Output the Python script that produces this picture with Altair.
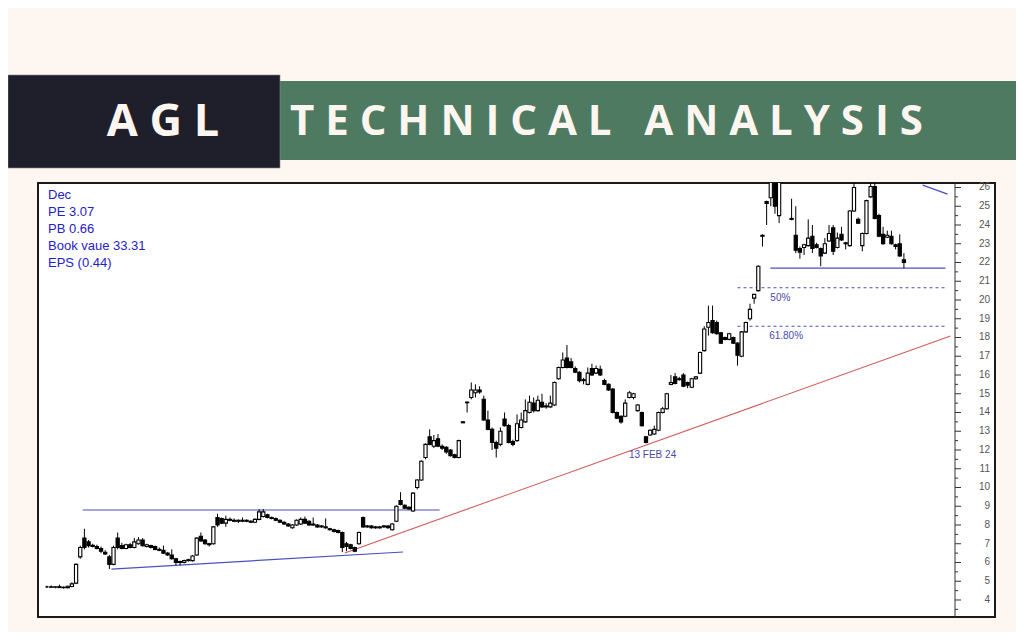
import altair as alt
import pandas as pd

# ---------------- data ----------------
OPEN = [4.70, 4.70, 4.68, 4.71, 4.66, 4.66, 4.72, 4.90, 6.30, 7.30,
        7.10, 6.92, 6.85, 6.75, 6.55, 6.30, 5.90, 7.30, 6.90, 6.75,
        6.95, 6.80, 7.00, 7.20, 6.85, 6.90, 6.85, 6.70, 6.65, 6.50,
        6.40, 6.20, 6.00, 6.00, 6.10, 6.10, 6.40, 7.40, 7.20, 7.00,
        7.00, 8.40, 8.35, 8.10, 8.30, 8.25, 8.25, 8.20, 8.25, 8.20,
        8.15, 8.30, 8.45, 8.55, 8.40, 8.35, 8.25, 8.15, 8.05, 7.85,
        8.00, 8.05, 8.30, 8.20, 8.05, 8.00, 7.95, 7.90, 7.80, 7.75,
        7.70, 7.60, 7.00, 6.95, 6.80, 7.00, 8.40, 7.90, 7.95, 7.85,
        7.85, 7.95, 7.95, 7.75, 8.20, 9.30, 9.05, 8.95, 8.75, 10.00,
        10.40, 11.60, 12.70, 12.20, 12.60, 12.20, 12.15, 12.00, 11.75, 11.60,
        13.50, 14.55, 14.80, 15.05, 15.20, 14.70, 13.60, 13.10, 12.40, 12.30,
        13.65, 13.30, 12.45, 12.50, 13.20, 13.50, 14.00, 14.50, 14.10, 14.55,
        14.35, 14.30, 14.40, 15.80, 16.40, 16.90, 16.70, 16.35, 16.15, 15.75,
        15.50, 16.35, 16.10, 16.30, 15.70, 15.50, 15.25, 14.00, 13.80, 13.80,
        14.80, 14.80, 14.10, 14.00, 12.70, 12.80, 12.85, 13.05, 14.00, 14.20,
        15.50, 15.90, 15.80, 16.00, 15.60, 15.35, 15.80, 16.10, 17.30, 18.55,
        18.90, 18.80, 18.25, 18.00, 17.90, 18.00, 17.70, 17.00, 18.30, 19.00,
        20.10, 20.50, 23.45, 25.25, 25.45, 26.80, 24.50, 26.80, 28.00, 24.35,
        23.45, 22.75, 22.80, 22.90, 23.40, 22.95, 22.75, 22.50, 23.15, 23.85,
        22.80, 23.50, 23.05, 22.90, 24.75, 24.30, 22.90, 23.55, 25.50, 26.05,
        24.50, 23.50, 23.35, 23.40, 22.95, 23.00, 22.15]
HIGH = [4.76, 4.78, 4.74, 4.82, 4.72, 4.76, 4.95, 5.95, 6.90, 7.80,
        7.20, 7.00, 6.95, 6.85, 6.65, 6.40, 6.90, 7.60, 7.05, 7.00,
        7.05, 7.30, 7.35, 7.30, 7.00, 6.95, 6.90, 6.80, 6.90, 6.55,
        6.70, 6.25, 6.10, 6.15, 6.20, 6.40, 7.35, 7.60, 7.25, 7.05,
        7.95, 8.60, 8.40, 8.50, 8.40, 8.35, 8.30, 8.40, 8.30, 8.25,
        8.35, 8.85, 8.85, 8.60, 8.45, 8.40, 8.30, 8.20, 8.10, 8.05,
        8.30, 8.40, 8.45, 8.25, 8.40, 8.05, 8.00, 8.35, 7.85, 7.80,
        7.75, 7.65, 7.10, 7.00, 6.85, 7.65, 8.45, 8.00, 8.00, 7.95,
        7.95, 8.00, 8.00, 8.10, 9.05, 9.75, 9.10, 9.00, 9.75, 10.45,
        11.45, 12.35, 13.10, 12.80, 12.85, 12.30, 12.20, 12.05, 11.80, 12.55,
        13.55, 14.60, 15.60, 15.50, 15.40, 14.90, 14.10, 13.20, 12.50, 13.20,
        14.00, 13.40, 12.55, 13.90, 14.00, 14.70, 14.90, 14.80, 14.90, 15.00,
        14.50, 14.90, 15.65, 16.45, 17.20, 17.60, 16.90, 16.45, 16.20, 15.85,
        16.40, 16.60, 16.50, 16.50, 15.80, 15.55, 15.30, 14.05, 13.85, 14.70,
        15.15, 15.05, 14.45, 14.05, 12.75, 13.10, 13.30, 14.05, 14.30, 15.05,
        16.00, 16.10, 15.90, 16.10, 15.65, 15.85, 15.95, 17.25, 18.60, 19.70,
        19.70, 18.90, 18.30, 18.05, 18.25, 18.05, 17.75, 18.35, 18.85, 19.80,
        20.30, 21.85, 23.50, 25.30, 27.00, 27.00, 26.80, 27.80, 28.20, 25.40,
        25.00, 22.85, 23.00, 24.30, 24.00, 23.05, 22.80, 23.30, 24.00, 24.00,
        23.60, 23.90, 23.10, 24.80, 26.30, 24.40, 23.60, 25.35, 26.50, 26.40,
        24.60, 23.90, 23.70, 23.70, 23.00, 23.50, 22.50]
LOW = [4.64, 4.66, 4.62, 4.64, 4.60, 4.62, 4.68, 4.85, 6.20, 6.70,
       6.80, 6.80, 6.70, 6.50, 6.40, 5.65, 5.85, 6.70, 6.70, 6.70,
       6.75, 6.75, 6.95, 6.85, 6.80, 6.75, 6.65, 6.60, 6.45, 6.35,
       6.15, 5.85, 5.85, 5.95, 6.05, 6.05, 6.35, 7.10, 6.95, 6.85,
       6.95, 7.90, 8.05, 7.90, 8.20, 8.15, 8.10, 8.15, 8.15, 8.10,
       8.10, 8.25, 8.40, 8.35, 8.30, 8.20, 8.10, 8.00, 7.90, 7.80,
       7.95, 8.00, 8.05, 7.95, 7.95, 7.85, 7.85, 7.80, 7.70, 7.60,
       7.55, 6.55, 6.60, 6.70, 6.55, 6.95, 7.85, 7.85, 7.80, 7.80,
       7.80, 7.85, 7.80, 7.70, 8.15, 9.05, 8.85, 8.80, 8.70, 9.90,
       10.35, 11.50, 12.25, 12.10, 12.15, 12.00, 11.80, 11.65, 11.55, 11.55,
       13.45, 14.00, 14.70, 14.80, 15.00, 13.55, 13.05, 12.00, 11.60, 12.20,
       13.25, 12.35, 12.20, 12.45, 13.15, 13.45, 13.95, 14.00, 14.05, 14.25,
       14.20, 14.25, 14.35, 15.75, 16.35, 16.35, 16.35, 16.10, 15.60, 15.50,
       15.45, 15.95, 16.05, 15.95, 15.45, 15.15, 13.95, 13.65, 13.40, 13.75,
       14.75, 14.70, 14.05, 13.25, 12.35, 12.75, 12.80, 13.00, 13.95, 14.15,
       15.45, 15.50, 15.70, 15.35, 15.30, 15.30, 15.75, 16.05, 17.25, 18.10,
       18.20, 18.15, 17.65, 17.85, 17.85, 17.65, 16.50, 16.95, 18.25, 18.90,
       19.80, 20.45, 22.85, 24.00, 25.00, 24.60, 24.10, 26.50, 26.60, 24.25,
       22.50, 22.20, 22.40, 22.85, 22.50, 22.75, 21.80, 22.45, 23.10, 22.40,
       22.75, 23.15, 22.70, 22.85, 24.70, 24.05, 22.60, 23.50, 25.45, 24.30,
       23.35, 22.95, 23.30, 22.95, 22.70, 22.30, 21.70]
CLOSE = [4.70, 4.68, 4.71, 4.66, 4.68, 4.73, 4.86, 5.90, 6.80, 6.80,
         6.90, 6.85, 6.75, 6.60, 6.45, 5.90, 6.80, 6.80, 6.75, 6.95,
         6.80, 7.10, 7.20, 6.90, 6.95, 6.80, 6.70, 6.65, 6.50, 6.40,
         6.20, 6.00, 6.05, 6.10, 6.15, 6.35, 7.30, 7.15, 7.00, 6.95,
         7.90, 8.00, 8.10, 8.30, 8.25, 8.20, 8.20, 8.25, 8.20, 8.15,
         8.30, 8.70, 8.70, 8.40, 8.35, 8.25, 8.15, 8.05, 7.95, 8.00,
         8.25, 8.30, 8.10, 8.00, 8.00, 7.90, 7.90, 7.85, 7.75, 7.65,
         7.60, 6.80, 6.85, 6.75, 6.60, 7.60, 7.90, 7.95, 7.85, 7.90,
         7.90, 7.90, 7.85, 8.05, 9.00, 9.10, 8.90, 8.85, 9.70, 10.40,
         11.40, 12.30, 12.30, 12.50, 12.20, 12.10, 11.90, 11.70, 11.60, 12.50,
         13.45, 14.52, 15.20, 15.20, 15.10, 13.60, 13.10, 12.40, 12.10, 13.00,
         13.30, 12.40, 12.30, 13.40, 13.60, 14.10, 14.55, 14.10, 14.65, 14.30,
         14.30, 14.50, 15.60, 16.40, 16.80, 16.40, 16.40, 16.15, 15.70, 15.70,
         16.10, 16.00, 16.35, 16.00, 15.50, 15.20, 14.00, 13.70, 13.50, 14.50,
         15.05, 15.00, 14.40, 13.30, 12.40, 13.05, 13.10, 14.00, 14.20, 15.00,
         15.60, 15.55, 15.75, 15.40, 15.45, 15.80, 15.90, 17.20, 18.45, 18.80,
         18.25, 18.20, 17.70, 17.90, 18.20, 17.70, 17.05, 18.30, 18.80, 19.50,
         20.30, 21.80, 23.40, 25.15, 26.60, 25.00, 26.80, 27.60, 27.00, 24.30,
         22.65, 22.55, 22.95, 23.30, 22.75, 22.80, 22.35, 23.00, 23.55, 22.60,
         23.30, 23.20, 23.00, 24.75, 26.00, 24.10, 23.55, 25.30, 26.05, 24.35,
         23.40, 23.00, 23.45, 23.00, 22.85, 22.35, 22.00]

PRICE_TICKS = list(range(4, 27))
MINOR_TICKS = [t + 0.5 for t in range(3, 26)]

INFO_TEXT = ["Dec", "PE 3.07", "PB 0.66", "Book vaue 33.31", "EPS (0.44)"]

HEAD_LEFT = "AGL"
HEAD_RIGHT = ["TECHNICAL", "ANALYSIS"]

# trend / level lines: (x index start, price start, x index end, price end)
BLUE_LINES = [
    (15.5, 5.65, 85.6, 6.56),     # rising support
    (8.6, 8.80, 94.4, 8.80),      # base resistance
    (173.9, 21.70, 216.0, 21.70), # recent floor
    (210.5, 26.13, 216.5, 25.65), # top-right line
]
RED_LINES = [(71.6, 6.51, 217.2, 18.08)]
FIB_LINES = [(166.0, 20.65, 216.0, 20.65), (166.0, 18.60, 216.0, 18.60)]

NOTES = [("50%", 173.9, 20.10), ("61.80%", 173.6, 18.08), ("13 FEB 24", 139.9, 11.73)]

# ---------------- scales ----------------
N = len(CLOSE)
STEP = 866 / (N - 1)
X_MIN = -4 / STEP
X_MAX = X_MIN + 957 / STEP
xs = alt.Scale(domain=[X_MIN, X_MAX], nice=False, zero=False)
ys = alt.Scale(domain=[3.093, 26.24], nice=False, zero=False)

candles = pd.DataFrame({"i": list(range(N)), "open": OPEN, "high": HIGH,
                        "low": LOW, "close": CLOSE})
candles["up"] = candles["close"] >= candles["open"]


def spaced(word):
    return " ".join(list(word))


def seg_layer(rows, color, dash=None, width=1.0):
    kw = dict(color=color, strokeWidth=width, clip=True)
    if dash:
        kw["strokeDash"] = dash
    df = pd.DataFrame(rows, columns=["x1", "y1", "x2", "y2"])
    return alt.Chart(df).mark_rule(**kw).encode(
        x=alt.X("x1:Q", scale=xs, axis=None),
        x2="x2:Q",
        y=alt.Y("y1:Q", scale=ys, axis=None),
        y2="y2:Q",
    )


one = pd.DataFrame({"k": [0]})

# ---------------- header ----------------
green_band = alt.Chart(one).mark_rect(color="#4e7a62").encode(
    x=alt.value(-38), x2=alt.value(990), y=alt.value(-102), y2=alt.value(-23))
dark_box = alt.Chart(one).mark_rect(color="#1f1f2b", stroke="#8a8a90", strokeWidth=0.6).encode(
    x=alt.value(-30), x2=alt.value(242), y=alt.value(-108), y2=alt.value(-15))
agl = alt.Chart(one).mark_text(
    text=spaced(HEAD_LEFT), font="Open Sans", fontWeight="bold", fontSize=45,
    color="#fdf6f0", align="center", baseline="middle").encode(
    x=alt.value(125), y=alt.value(-61))
title = alt.Chart(one).mark_text(
    text="\u00a0\u00a0\u00a0".join(spaced(w) for w in HEAD_RIGHT),
    font="Open Sans", fontWeight="bold",
    fontSize=42, color="#fdf6f0", align="left", baseline="middle").encode(
    x=alt.value(252), y=alt.value(-61))

# ---------------- price chart ----------------
wicks = alt.Chart(candles).mark_rule(color="#000000", strokeWidth=1, clip=True).encode(
    x=alt.X("i:Q", scale=xs, axis=None),
    y=alt.Y("low:Q", scale=ys, axis=None),
    y2="high:Q",
)
bodies = alt.Chart(candles).mark_bar(size=3.2, stroke="#000000", strokeWidth=1.1, clip=True).encode(
    x=alt.X("i:Q", scale=xs, axis=None),
    y=alt.Y("open:Q", scale=ys, axis=None),
    y2="close:Q",
    color=alt.Color("up:N", scale=alt.Scale(domain=[True, False], range=["#ffffff", "#000000"]),
                    legend=None),
)

# right-hand price axis drawn by hand inside the frame
axis_line = alt.Chart(one).mark_rule(color="#333333", strokeWidth=1).encode(
    x=alt.value(917), y=alt.value(0), y2=alt.value(434))
major = alt.Chart(pd.DataFrame({"t": PRICE_TICKS})).mark_rule(color="#333333", strokeWidth=1).encode(
    x=alt.value(917), x2=alt.value(923), y=alt.Y("t:Q", scale=ys, axis=None))
minor = alt.Chart(pd.DataFrame({"t": MINOR_TICKS})).mark_rule(color="#333333", strokeWidth=1).encode(
    x=alt.value(917), x2=alt.value(920), y=alt.Y("t:Q", scale=ys, axis=None))
tick_labels = alt.Chart(pd.DataFrame({"t": PRICE_TICKS})).mark_text(
    font="Liberation Sans", fontSize=10, color="#555555", align="right", baseline="middle",
    dx=0).encode(
    x=alt.value(952), y=alt.Y("t:Q", scale=ys, axis=None), text="t:Q")

info = alt.Chart(one).mark_text(
    text="\n".join(INFO_TEXT), lineBreak="\n", lineHeight=17, font="Liberation Sans",
    fontSize=13, color="#1f22c6", align="left", baseline="top").encode(
    x=alt.value(10), y=alt.value(6))

notes = alt.Chart(pd.DataFrame(NOTES, columns=["label", "x", "y"])).mark_text(
    font="Liberation Sans", fontSize=10, color="#4a4aa8", align="left", baseline="middle").encode(
    x=alt.X("x:Q", scale=xs, axis=None),
    y=alt.Y("y:Q", scale=ys, axis=None),
    text="label:N",
)

chart = alt.layer(
    green_band, dark_box, agl, title,
    seg_layer(RED_LINES, "#d05a5a", width=1.1),
    seg_layer(BLUE_LINES, "#4b50c0", width=1.2),
    seg_layer(FIB_LINES, "#4b50c0", dash=[3, 3], width=1.1),
    wicks, bodies, axis_line, major, minor, tick_labels, info, notes,
).properties(
    width=957, height=434, autosize="none",
    padding={"left": 30, "top": 175, "right": 21, "bottom": 15},
    background="#fdf6f1",
).configure_view(stroke="#1a1a1a", strokeWidth=2, fill="#ffffff")

chart.save("out.html", embed_options={"renderer": "svg", "actions": False})
